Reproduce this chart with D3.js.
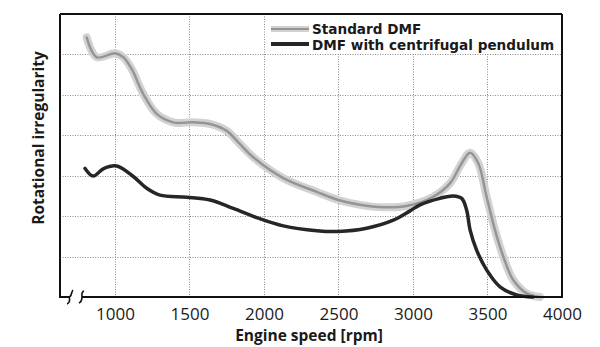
<!DOCTYPE html>
<html>
<head>
<meta charset="utf-8">
<script src="https://cdn.jsdelivr.net/npm/d3@7"></script>
<style>
  html, body { margin: 0; padding: 0; background: #fff; }
  svg { display: block; }
  text { font-family: "Open Sans", "Noto Sans", sans-serif; fill: #1a1a1a; }
</style>
</head>
<body>
<svg id="chart" width="600" height="347"></svg>
<script>
// ---- data ----
const xTicks = [1000, 1500, 2000, 2500, 3000, 3500, 4000];
const yGrid = [1, 2, 3, 4, 5, 6];
const seriesNames = ["Standard DMF", "DMF with centrifugal pendulum"];

const rpmStandard = [810, 877, 1000, 1056, 1112, 1190, 1280, 1391, 1525, 1638, 1750, 1839, 1930, 2130, 2354, 2499, 2644, 2801, 2957, 3136, 3248, 3327, 3383, 3438, 3494, 3550, 3606, 3673, 3763, 3852];
const valStandard = [6.42, 5.93, 6.03, 5.93, 5.64, 5.02, 4.53, 4.32, 4.32, 4.28, 4.11, 3.78, 3.45, 2.94, 2.60, 2.40, 2.28, 2.22, 2.25, 2.48, 2.81, 3.31, 3.57, 3.31, 2.48, 1.66, 1.00, 0.42, 0.09, 0.00];

const rpmPendulum = [799, 854, 921, 1011, 1123, 1213, 1302, 1481, 1638, 1794, 1962, 2130, 2354, 2499, 2689, 2868, 2980, 3047, 3181, 3270, 3327, 3360, 3383, 3427, 3494, 3584, 3696, 3805];
const valPendulum = [3.18, 2.99, 3.17, 3.24, 2.98, 2.69, 2.52, 2.47, 2.40, 2.19, 1.95, 1.76, 1.64, 1.62, 1.70, 1.90, 2.13, 2.28, 2.44, 2.50, 2.44, 2.15, 1.66, 1.16, 0.67, 0.25, 0.05, 0.00];

// ---- layout ----
const svg = d3.select("#chart");
const L = 60, R = 562, T = 14, B = 297;
const x = d3.scaleLinear().domain([631, 4000]).range([L, R]);
const y = d3.scaleLinear().domain([0, 7]).range([B, T]);
const px = v => Math.round(v) + 0.5;

// grid
const grid = svg.append("g").attr("stroke", "#8a8a8a").attr("stroke-width", 1).attr("stroke-dasharray", "1,1.5");
grid.selectAll(null).data(xTicks.filter(d => d < 4000)).enter().append("line")
  .attr("x1", d => px(x(d))).attr("x2", d => px(x(d))).attr("y1", T).attr("y2", B);
grid.selectAll(null).data(yGrid).enter().append("line")
  .attr("x1", L).attr("x2", R).attr("y1", d => px(y(d))).attr("y2", d => px(y(d)));

// legend background (covers grid)
svg.append("rect").attr("x", 266).attr("y", T + 1).attr("width", R - 266 - 1).attr("height", 39).attr("fill", "#fff");

// curves
const line = d3.line().x(d => x(d[0])).y(d => y(d[1])).curve(d3.curveCatmullRom.alpha(0.5));
const stdData = rpmStandard.map((r, i) => [r, valStandard[i]]);
const penData = rpmPendulum.map((r, i) => [r, valPendulum[i]]);

svg.append("path").attr("d", line(stdData)).attr("fill", "none")
  .attr("stroke", "#d2d2d2").attr("stroke-width", 8).attr("stroke-linecap", "round");
svg.append("path").attr("d", line(stdData)).attr("fill", "none")
  .attr("stroke", "#959595").attr("stroke-width", 2.5).attr("stroke-linecap", "round");
svg.append("path").attr("d", line(penData)).attr("fill", "none")
  .attr("stroke", "#262626").attr("stroke-width", 3.5).attr("stroke-linecap", "round");

// frame
const frame = svg.append("g").attr("stroke", "#111").attr("stroke-width", 2).attr("fill", "none");
frame.append("line").attr("x1", L).attr("x2", R).attr("y1", T).attr("y2", T);
frame.append("line").attr("x1", R).attr("x2", R).attr("y1", T).attr("y2", B);
frame.append("line").attr("x1", L).attr("x2", L).attr("y1", T).attr("y2", B);
frame.append("line").attr("x1", L - 1).attr("x2", 69).attr("y1", B).attr("y2", B);
frame.append("line").attr("x1", 82).attr("x2", R + 1).attr("y1", B).attr("y2", B);
// axis break marks
frame.append("path").attr("stroke-width", 1.6).attr("d", "M69,297 C72,297 71,292 73,290");
frame.append("path").attr("stroke-width", 1.6).attr("d", "M69,297 C70,299 70,303 67,304");
frame.append("path").attr("stroke-width", 1.6).attr("d", "M84,291 C81,292 82,296 82,297");
frame.append("path").attr("stroke-width", 1.6).attr("d", "M82,297 C82,300 81,302 79,303");

// x axis tick labels
const ax = svg.append("g").attr("transform", `translate(0,${B})`)
  .call(d3.axisBottom(x).tickValues(xTicks).tickSize(0).tickFormat(d3.format("d")));
ax.select(".domain").remove();
ax.selectAll("text").attr("y", 23).attr("dy", 0)
  .style("font-family", "'Open Sans', sans-serif").style("font-size", "17px").attr("fill", "#1a1a1a");

// axis titles
svg.append("text").attr("x", 309).attr("y", 341).attr("text-anchor", "middle")
  .style("font-size", "15.5px").style("font-weight", "700").text("Engine speed [rpm]");
svg.append("text").attr("transform", "translate(44,138) rotate(-90)").attr("text-anchor", "middle")
  .style("font-size", "15.5px").style("font-weight", "700").text("Rotational irregularity");

// legend
const lg = svg.append("g");
lg.append("line").attr("x1", 271).attr("x2", 309).attr("y1", 29).attr("y2", 29)
  .attr("stroke", "#d2d2d2").attr("stroke-width", 6);
lg.append("line").attr("x1", 271).attr("x2", 309).attr("y1", 29).attr("y2", 29)
  .attr("stroke", "#959595").attr("stroke-width", 2);
lg.append("line").attr("x1", 271).attr("x2", 309).attr("y1", 44).attr("y2", 44)
  .attr("stroke", "#262626").attr("stroke-width", 4);
lg.selectAll(null).data(seriesNames).enter().append("text")
  .attr("x", 312).attr("y", (d, i) => 34 + i * 16.2)
  .style("font-family", "'DejaVu Sans', sans-serif")
  .style("font-size", "13.6px").style("font-weight", "700").text(d => d);
</script>
</body>
</html>
